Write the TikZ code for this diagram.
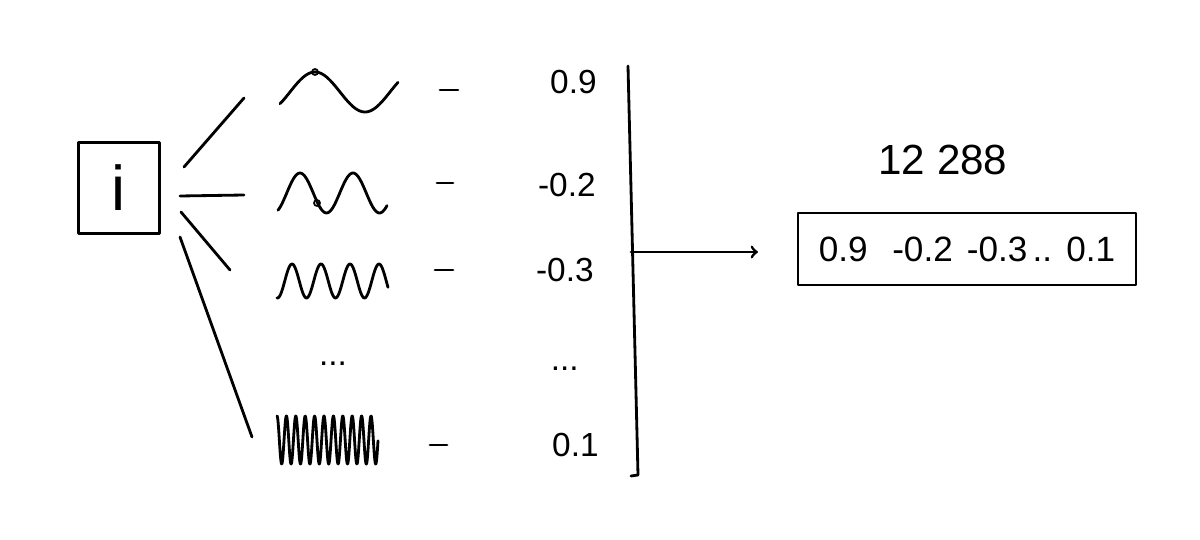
\documentclass[tikz,border=0pt]{standalone}
\usepackage{fontspec}
\setmainfont{Liberation Sans}
\begin{document}
\begin{tikzpicture}[x=0.02cm,y=-0.02cm,line width=1.6pt,line cap=round,line join=round,
  valnum/.style={anchor=east, inner sep=0pt, font=\fontsize{19}{22}\selectfont},
  wave/.style={smooth, samples=#1},
  wave/.default=80]
\useasboundingbox (0,0) rectangle (1200,540);
\node[draw, minimum width=1.62cm, minimum height=1.82cm, inner sep=0pt,
  font=\fontsize{36}{40}\selectfont] (inp) at (119,188) {i};
\coordinate (s1) at (184,167);
\coordinate (s2) at (180,196);
\coordinate (s3) at (181,212);
\coordinate (s4) at (180,237);
\coordinate (w1) at (244,98);
\coordinate (w2) at (244,195);
\coordinate (w3) at (230,270);
\coordinate (w5) at (252,437);
\draw (s1) -- (w1);
\draw (s2) -- (w2);
\draw (s3) -- (w3);
\draw (s4) -- (w5);
\draw plot[wave, domain=280:398] (\x,{92-20*cos(3.6*(\x-315))});
\draw plot[wave, domain=278:387] (\x,{193-20*cos(360/53*(\x-300))});
\draw plot[wave=120, domain=277:388] (\x,{281-17*cos(360/29*(\x-292))});
\draw plot[wave=400, domain=277:378] (\x,{440-24*cos(360/9.4*(\x-277))});
\draw[line width=1pt] (315,72) circle (3);
\draw[line width=1pt] (317,203) circle (3);
\node[inner sep=0pt, font=\fontsize{19}{22}\selectfont] (dots1) at (333,364) {...};
\foreach \xa/\xb/\y in {440/458/90, 437/453/183, 435/453/270, 430/447/445}
  \draw (\xa,\y) -- (\xb,\y);
\node[valnum] (v1) at (598,82) {0.9};
\node[valnum] (v2) at (597,185) {-0.2};
\node[valnum] (v3) at (595,270) {-0.3};
\node[valnum] (v4) at (580,369) {...};
\node[valnum] (v5) at (600,445) {0.1};
\draw (628,66) -- (638,475) -- (631,476);
\coordinate (bar) at (631,252);
\node[draw, minimum width=6.76cm, minimum height=1.44cm, inner sep=0pt,
  font=\fontsize{20}{24}\selectfont] (vec) at (967,249)
  {0.9\hspace{0.7em}-0.2\hspace{0.4em}-0.3\hspace{0.15em}..\hspace{0.4em}0.1};
\node[font=\fontsize{24}{28}\selectfont] (dim) at (943,160) {12 288};
\draw[->, shorten >=22pt] (bar) -- (bar -| vec.west);
\end{tikzpicture}
\end{document}
